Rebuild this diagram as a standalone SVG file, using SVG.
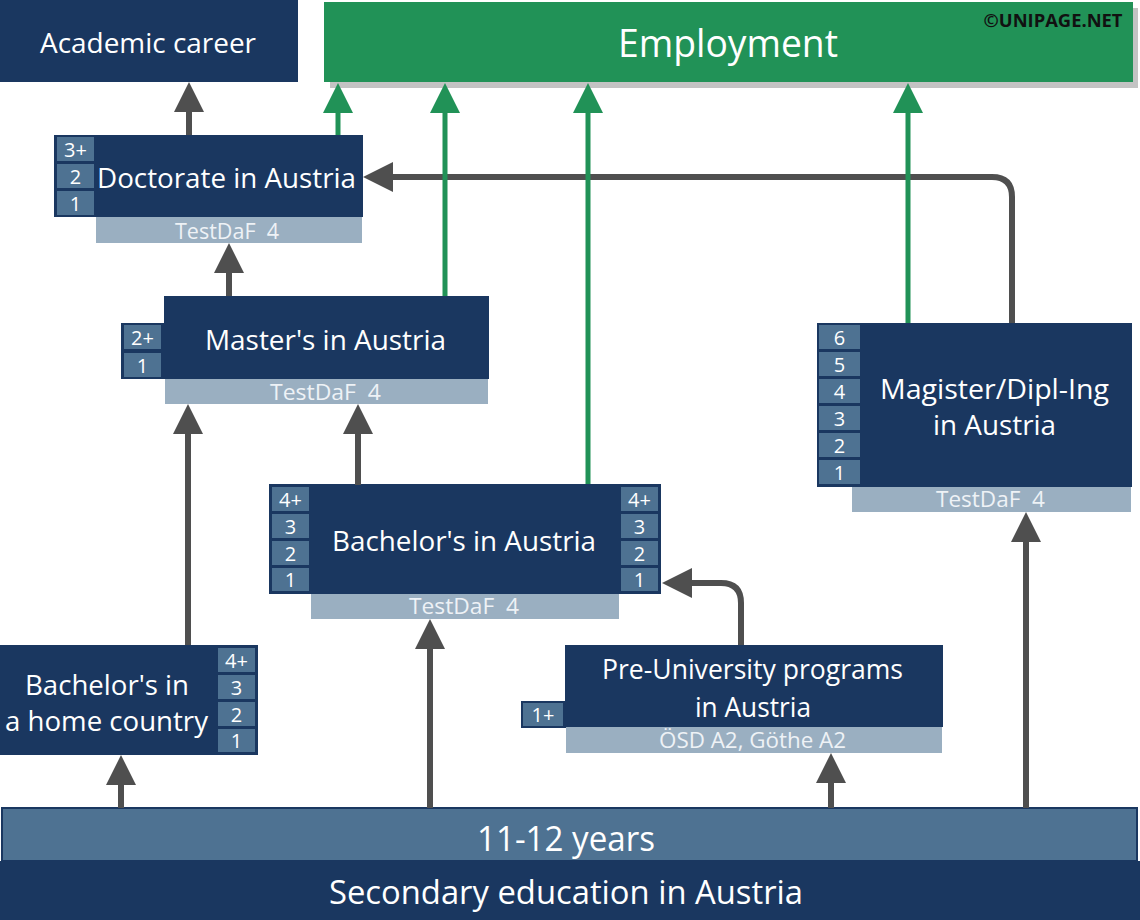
<svg xmlns="http://www.w3.org/2000/svg" width="1140" height="920" viewBox="0 0 1140 920">
<defs>
<style>
.n{fill:#1a3760}
.c{fill:#4e7292}
.b{fill:#9aafc1}
.t{font-family:"Open Sans","Liberation Sans",sans-serif;fill:#ffffff;text-anchor:middle;white-space:pre}
.l{font-size:28px}
.s{font-size:21px;fill:#eef2f6}
.k{font-size:20px}
.gl{fill:none;stroke:#4f4f4f;stroke-width:6}
.gr{fill:none;stroke:#219257;stroke-width:5}
</style>
<marker id="ag" markerUnits="userSpaceOnUse" markerWidth="30" markerHeight="30" viewBox="0 0 30 30" refX="0" refY="15" orient="auto"><path d="M0,0 L30,15 L0,30 z" fill="#4f4f4f"/></marker>
<marker id="aG" markerUnits="userSpaceOnUse" markerWidth="30" markerHeight="30" viewBox="0 0 30 30" refX="0" refY="15" orient="auto"><path d="M0,0 L30,15 L0,30 z" fill="#219257"/></marker>
</defs>
<rect width="1140" height="920" fill="#ffffff"/>

<g id="academic">
<rect class="n" x="0" y="0" width="298" height="82"/>
<text class="t l" x="148" y="53" textLength="216" lengthAdjust="spacingAndGlyphs">Academic career</text>
</g>

<g id="employment">
<rect x="330" y="8" width="808" height="80" fill="#c3c3c3"/>
<rect x="324" y="2" width="809" height="80" fill="#219257"/>
<text class="t" x="728" y="57" font-size="38" textLength="220" lengthAdjust="spacingAndGlyphs">Employment</text>
<text x="1053" y="27" font-family="'Open Sans','Liberation Sans',sans-serif" font-weight="bold" font-size="18" fill="#111111" text-anchor="middle" textLength="139" lengthAdjust="spacingAndGlyphs">©UNIPAGE.NET</text>
</g>

<g id="doctorate">
<rect class="n" x="54" y="135" width="309" height="82"/>
<rect class="c" x="57" y="137" width="37" height="24"/>
<rect class="c" x="57" y="164" width="37" height="24"/>
<rect class="c" x="57" y="191" width="37" height="24"/>
<text class="t k" x="75.5" y="157">3+</text>
<text class="t k" x="75.5" y="184">2</text>
<text class="t k" x="75.5" y="211">1</text>
<text class="t l" x="226.5" y="188" textLength="259" lengthAdjust="spacingAndGlyphs">Doctorate in Austria</text>
<rect class="b" x="96" y="217" width="266" height="26"/>
<text class="t s" x="227" y="239" textLength="104" lengthAdjust="spacingAndGlyphs">TestDaF  4</text>
</g>

<g id="master">
<rect class="n" x="164" y="296" width="325" height="83"/>
<rect class="n" x="121" y="323" width="44" height="56"/>
<rect class="c" x="124" y="325" width="37" height="24"/>
<rect class="c" x="124" y="353" width="37" height="24"/>
<text class="t k" x="142.5" y="345">2+</text>
<text class="t k" x="142.5" y="373">1</text>
<text class="t l" x="325.5" y="350" textLength="241" lengthAdjust="spacingAndGlyphs">Master's in Austria</text>
<rect class="b" x="165" y="379" width="323" height="25"/>
<text class="t s" x="325.5" y="400" textLength="111" lengthAdjust="spacingAndGlyphs">TestDaF  4</text>
</g>

<g id="bachelor-austria">
<rect class="n" x="269" y="484" width="392" height="110"/>
<rect class="c" x="272" y="487" width="37" height="24"/>
<rect class="c" x="272" y="514" width="37" height="24"/>
<rect class="c" x="272" y="541" width="37" height="24"/>
<rect class="c" x="272" y="568" width="37" height="23"/>
<rect class="c" x="621" y="487" width="37" height="24"/>
<rect class="c" x="621" y="514" width="37" height="24"/>
<rect class="c" x="621" y="541" width="37" height="24"/>
<rect class="c" x="621" y="568" width="37" height="23"/>
<text class="t k" x="290.5" y="507">4+</text>
<text class="t k" x="290.5" y="534">3</text>
<text class="t k" x="290.5" y="561">2</text>
<text class="t k" x="290.5" y="587">1</text>
<text class="t k" x="639.5" y="507">4+</text>
<text class="t k" x="639.5" y="534">3</text>
<text class="t k" x="639.5" y="561">2</text>
<text class="t k" x="639.5" y="587">1</text>
<text class="t l" x="464" y="551" textLength="264" lengthAdjust="spacingAndGlyphs">Bachelor's in Austria</text>
<rect class="b" x="311" y="594" width="308" height="25"/>
<text class="t s" x="464" y="614" textLength="110" lengthAdjust="spacingAndGlyphs">TestDaF  4</text>
</g>

<g id="magister">
<rect class="n" x="817" y="323" width="315" height="164"/>
<rect class="c" x="819" y="325" width="41" height="24"/>
<rect class="c" x="819" y="352" width="41" height="24"/>
<rect class="c" x="819" y="379" width="41" height="24"/>
<rect class="c" x="819" y="406" width="41" height="24"/>
<rect class="c" x="819" y="433" width="41" height="24"/>
<rect class="c" x="819" y="460" width="41" height="24"/>
<text class="t k" x="839.5" y="345">6</text>
<text class="t k" x="839.5" y="372">5</text>
<text class="t k" x="839.5" y="399">4</text>
<text class="t k" x="839.5" y="426">3</text>
<text class="t k" x="839.5" y="453">2</text>
<text class="t k" x="839.5" y="480">1</text>
<text class="t l" x="994.5" y="399" textLength="229" lengthAdjust="spacingAndGlyphs">Magister/Dipl-Ing</text>
<text class="t l" x="994.5" y="435" textLength="123" lengthAdjust="spacingAndGlyphs">in Austria</text>
<rect class="b" x="852" y="487" width="279" height="25"/>
<text class="t s" x="990.5" y="507" textLength="109" lengthAdjust="spacingAndGlyphs">TestDaF  4</text>
</g>

<g id="bachelor-home">
<rect class="n" x="0" y="645" width="258" height="110"/>
<rect class="c" x="218" y="648" width="37" height="24"/>
<rect class="c" x="218" y="675" width="37" height="24"/>
<rect class="c" x="218" y="702" width="37" height="24"/>
<rect class="c" x="218" y="729" width="37" height="23"/>
<text class="t k" x="236.5" y="668">4+</text>
<text class="t k" x="236.5" y="695">3</text>
<text class="t k" x="236.5" y="722">2</text>
<text class="t k" x="236.5" y="748">1</text>
<text class="t l" x="107" y="695" textLength="164" lengthAdjust="spacingAndGlyphs">Bachelor's in</text>
<text class="t l" x="106.5" y="731" textLength="203" lengthAdjust="spacingAndGlyphs">a home country</text>
</g>

<g id="pre-university">
<rect class="n" x="565" y="645" width="378" height="82"/>
<rect class="n" x="521" y="701" width="45" height="27"/>
<rect class="c" x="523" y="703" width="40" height="23"/>
<text class="t k" x="543" y="722">1+</text>
<text class="t" font-size="27" x="752.5" y="679" textLength="301" lengthAdjust="spacingAndGlyphs">Pre-University programs</text>
<text class="t" font-size="27" x="753" y="717" textLength="116" lengthAdjust="spacingAndGlyphs">in Austria</text>
<rect class="b" x="566" y="727" width="376" height="26"/>
<text class="t s" x="752.5" y="748" textLength="187" lengthAdjust="spacingAndGlyphs">ÖSD A2, Göthe A2</text>
</g>

<g id="secondary">
<rect x="2" y="808" width="1135" height="53" fill="#4e7292" stroke="#1a3760" stroke-width="2"/>
<rect class="n" x="0" y="861" width="1140" height="59"/>
<text class="t" font-size="34" x="566" y="851" textLength="178" lengthAdjust="spacingAndGlyphs">11-12 years</text>
<text class="t" font-size="33" x="566" y="904" textLength="474" lengthAdjust="spacingAndGlyphs">Secondary education in Austria</text>
</g>

<g id="connectors">
<path class="gl" d="M189,135 V112" marker-end="url(#ag)"/>
<path class="gl" d="M229,296 V273" marker-end="url(#ag)"/>
<path class="gl" d="M358,485 V434" marker-end="url(#ag)"/>
<path class="gl" d="M188,645 V434" marker-end="url(#ag)"/>
<path class="gl" d="M121,808 V785" marker-end="url(#ag)"/>
<path class="gl" d="M430,808 V649" marker-end="url(#ag)"/>
<path class="gl" d="M831,808 V783" marker-end="url(#ag)"/>
<path class="gl" d="M1026,808 V542" marker-end="url(#ag)"/>
<path class="gl" d="M741,645 V603 Q741,583 721,583 H692" marker-end="url(#ag)"/>
<path class="gl" d="M1012,323 V197 Q1012,177 992,177 H393" marker-end="url(#ag)"/>
<path class="gr" d="M338,135 V113" marker-end="url(#aG)"/>
<path class="gr" d="M445,296 V113" marker-end="url(#aG)"/>
<path class="gr" d="M588,484 V113" marker-end="url(#aG)"/>
<path class="gr" d="M908,323 V113" marker-end="url(#aG)"/>
</g>
</svg>
